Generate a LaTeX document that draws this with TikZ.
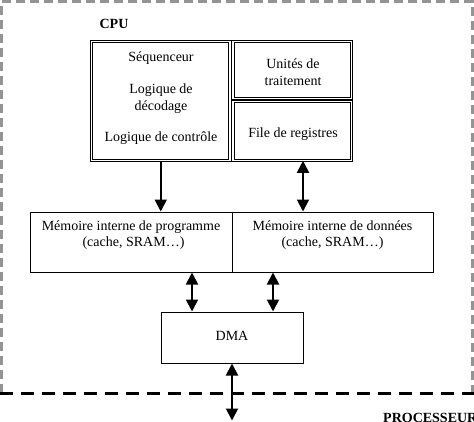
\documentclass[tikz,border=0pt]{standalone}
\usepackage{fontspec}
\setmainfont{Liberation Serif}
\usetikzlibrary{arrows.meta}
\tikzset{
  cell/.style={draw, double, double distance=1.5pt, line width=1pt, inner sep=0pt},
  box/.style={draw, line width=1pt, inner sep=0pt},
  txt/.style={inner sep=0pt, anchor=base},
  tip/.tip={Triangle[width=12pt,length=12pt]},
  arr/.style={line width=1.9pt, -tip},
  darr/.style={line width=1.9pt, tip-tip},
  greydash/.style={draw=black!42, line width=2.4pt, dash pattern=on 9pt off 5pt},
  blackdash/.style={draw=black, line width=3pt, dash pattern=on 13pt off 8pt}
}
\begin{document}
\begin{tikzpicture}[x=1pt,y=-1pt,font=\fontsize{14}{16}\selectfont]
\useasboundingbox (0,0) rectangle (474,421);
% outer processor boundary
\coordinate (bl) at (1.5,393);
\coordinate (tl) at (1.5,1.5);
\coordinate (tr) at (472.5,1.5);
\coordinate (br) at (472.5,393);
\draw[greydash] (bl) -- (tl) -- (tr) -- (br);
\coordinate (sepL) at (0,393);
\coordinate (sepR) at (474,393);
\draw[blackdash] (sepL) -- (sepR);
% CPU
\node[txt] (cpu) at (114,28) {\textbf{CPU}};
\node[cell, minimum width=138.1pt, minimum height=118.6pt] (ctrl) at (160.75,101) {};
\node[cell, minimum width=118.1pt, minimum height=56.6pt] (units) at (292.25,70) {};
\node[cell, minimum width=118.1pt, minimum height=58.6pt] (regs) at (292.25,131) {};
\node[txt] (seq) at (161,61.7) {Séquenceur};
\node[txt] (dec1) at (161,93.3) {Logique de};
\node[txt] (dec2) at (161,110) {décodage};
\node[txt] (ctl) at (161,141) {Logique de contrôle};
\node[txt] (ut1) at (293,68.3) {Unités de};
\node[txt] (ut2) at (293,85) {traitement};
\node[txt] (reg) at (293,137.7) {File de registres};
% memories
\node[box, minimum width=202pt, minimum height=60pt] (memP) at (131,242) {};
\node[box, minimum width=201pt, minimum height=60pt] (memD) at (332.5,242) {};
\node[txt] (mp1) at (131,230) {Mémoire interne de programme};
\node[txt] (mp2) at (133.5,246.7) {(cache, SRAM…)};
\node[txt] (md1) at (332.5,230) {Mémoire interne de données};
\node[txt] (md2) at (332.5,246.7) {(cache, SRAM…)};
% DMA
\node[box, minimum width=142pt, minimum height=51pt] (dma) at (232,337.5) {};
\node[txt] (dmat) at (232,340.5) {DMA};
% label
\node[txt, anchor=base west] (proc) at (383,422.5) {\textbf{PROCESSEUR}};
% connectors
\draw[arr] (ctrl.south) -- (ctrl.south |- memP.north);
\draw[darr] ([xshift=10.75pt]regs.south) -- ([xshift=10.75pt]regs.south |- memD.north);
\draw[darr] ([xshift=-40pt]dma.north) -- ([xshift=-40pt]dma.north |- memP.south);
\draw[darr] ([xshift=41pt]dma.north) -- ([xshift=41pt]dma.north |- memD.south);
\coordinate (ext) at (232,420.5);
\draw[darr] (dma.south) -- (ext);
\end{tikzpicture}
\end{document}
